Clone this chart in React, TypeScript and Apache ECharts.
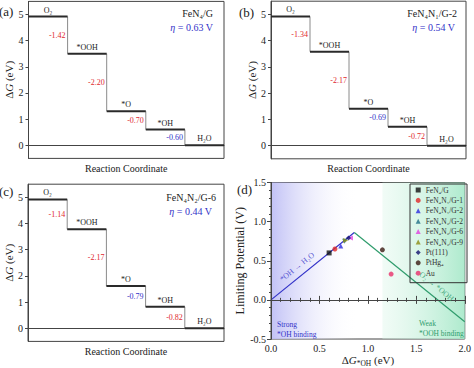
import React, { useEffect, useRef } from 'react';
import * as echarts from 'echarts';

const FONT = '"Liberation Serif", "DejaVu Serif", serif';
const RED = '#e0282e';
const BLUE = '#3232c8';
const GREEN = '#2f9c6c';

// ---- panels (a)-(c): free-energy diagrams ----
const states = ['O₂', '*OOH', '*O', '*OH', 'H₂O'];
const levelsA = [4.92, 3.5, 1.3, 0.6, 0.0];
const stepsA = ['-1.42', '-2.20', '-0.70', '-0.60'];
const limitingA = 3;
const levelsB = [4.92, 3.58, 1.41, 0.72, 0.0];
const stepsB = ['-1.34', '-2.17', '-0.69', '-0.72'];
const limitingB = 2;
const levelsC = [4.92, 3.78, 1.61, 0.82, 0.0];
const stepsC = ['-1.14', '-2.17', '-0.79', '-0.82'];
const limitingC = 2;
const panelNames = ['FeN₄/G', 'FeN₄N₁/G-2', 'FeN₄N₂/G-6'];
const panelEta = ['0.63', '0.54', '0.44'];
const yTicks = [0, 1, 2, 3, 4, 5];

// ---- panel (d): volcano ----
const volcanoLeft = [[0, 0], [0.86, 0.86]];
const volcanoRight = [[0.86, 0.86], [2.0, -0.28]];
const catalysts = ['FeN₄/G', 'FeN₄N₁/G-1', 'FeN₄N₁/G-2', 'FeN₄N₂/G-2', 'FeN₄N₂/G-6', 'FeN₄N₂/G-9', 'Pt(111)', 'PtHg₄', 'Au'];
const dGOH = [0.6, 0.66, 0.72, 0.76, 0.82, 0.77, 0.8, 1.15, 1.24];
const limitingPotential = [0.6, 0.65, 0.69, 0.75, 0.79, 0.76, 0.79, 0.64, 0.33];
const symbols = ['rect', 'circle', 'triangle', 'triangle', 'triangle', 'triangle', 'diamond', 'circle', 'circle'];
const symbolRotations = [0, 0, 0, 180, 90, -90, 0, 0, 0];
const symbolColors = ['#111111', '#e02828', '#2a2ae0', '#1f6f86', '#e040e0', '#8c8c14', '#12126e', '#3a1a12', '#e8306a'];

const grids = [
  { left: 28.5, top: 1.4, width: 195.5, height: 157 },
  { left: 271, top: 1.2, width: 195, height: 157.6 },
  { left: 28, top: 184.2, width: 196, height: 157.2 },
  { left: 271, top: 182.5, width: 196, height: 158 },
];

function stepSeries(gi: number, levels: number[], steps: string[], limiting: number) {
  return [
    {
      type: 'custom',
      xAxisIndex: gi,
      yAxisIndex: gi,
      z: 3,
      data: steps.map((s, i) => [i + 1, levels[i], levels[i + 1]]),
      renderItem: (params: any, api: any) => {
        const i = params.dataIndex;
        const a = api.coord([api.value(0), api.value(1)]);
        const b = api.coord([api.value(0), api.value(2)]);
        return {
          type: 'group',
          children: [
            { type: 'line', shape: { x1: a[0], y1: a[1], x2: b[0], y2: b[1] }, style: { stroke: '#8a8a8a', lineWidth: 1 } },
            {
              type: 'text',
              x: a[0] - 2,
              y: (a[1] + b[1]) / 2,
              style: {
                text: steps[i],
                fill: i === limiting ? BLUE : RED,
                fontSize: 8,
                fontFamily: FONT,
                align: 'right',
                verticalAlign: 'middle',
              },
            },
          ],
        };
      },
    },
    {
      type: 'custom',
      xAxisIndex: gi,
      yAxisIndex: gi,
      z: 4,
      data: levels.map((v, i) => [i, i + 1, v]),
      renderItem: (params: any, api: any) => {
        const i = params.dataIndex;
        const a = api.coord([api.value(0), api.value(2)]);
        const b = api.coord([api.value(1), api.value(2)]);
        return {
          type: 'group',
          children: [
            { type: 'line', shape: { x1: a[0], y1: a[1], x2: b[0], y2: b[1] }, style: { stroke: '#2a2a2a', lineWidth: 2 } },
            {
              type: 'text',
              x: (a[0] + b[0]) / 2,
              y: a[1] - 2.5,
              style: {
                text: states[i],
                fill: '#222',
                fontSize: 8,
                fontFamily: FONT,
                align: 'center',
                verticalAlign: 'bottom',
              },
            },
          ],
        };
      },
    },
  ];
}

function stepAxes(gi: number) {
  const x = {
    type: 'value',
    gridIndex: gi,
    min: 0,
    max: 5,
    axisLine: { show: true, lineStyle: { color: '#444', width: 1 } },
    axisTick: { show: false },
    axisLabel: { show: false },
    splitLine: { show: false },
    name: 'Reaction Coordinate',
    nameLocation: 'middle',
    nameGap: 5,
    nameTextStyle: { fontFamily: FONT, fontSize: 10, color: '#222', verticalAlign: 'top' },
  };
  const y = {
    type: 'value',
    gridIndex: gi,
    min: -0.5,
    max: 5.5,
    axisLine: { show: true, lineStyle: { color: '#444', width: 1 } },
    axisTick: { show: true, length: 3, customValues: yTicks, lineStyle: { color: '#444' } },
    axisLabel: { customValues: yTicks, margin: 5, fontSize: 10, fontFamily: FONT, color: '#222' },
    splitLine: { show: false },
    name: 'Δ{i|G} (eV)',
    nameLocation: 'middle',
    nameGap: 12,
    nameTextStyle: {
      fontFamily: FONT,
      fontSize: 11,
      color: '#222',
      rich: { i: { fontFamily: FONT, fontSize: 11, fontStyle: 'italic', color: '#222' } },
    },
  };
  return { x, y };
}

function text(x: number, y: number, t: string, opts: any = {}) {
  const align = opts.align || 'left';
  const va = opts.verticalAlign || 'middle';
  return {
    type: 'text',
    x,
    y,
    z: 100,
    style: {
      text: t,
      fill: opts.fill || '#222',
      fontSize: opts.fontSize || 10,
      fontFamily: FONT,
      fontStyle: opts.fontStyle || 'normal',
      lineHeight: opts.lineHeight,
      align,
      textAlign: align,
      verticalAlign: va,
      textVerticalAlign: va,
      rich: opts.rich,
    },
  };
}

export default function App() {
  const ref = useRef<HTMLDivElement>(null);

  useEffect(() => {
    if (!ref.current) return;
    const chart = echarts.init(ref.current, undefined, { renderer: 'svg' });

    const aA = stepAxes(0);
    const aB = stepAxes(1);
    const aC = stepAxes(2);

    const dAxisLine = { show: true, lineStyle: { color: '#444', width: 1 } };
    const tickFmt = (v: number) => v.toFixed(1);

    const etaRich = (c: string) => ({ i: { fontFamily: FONT, fontSize: 10, fontStyle: 'italic', fill: c, color: c } });

    const option: any = {
      animation: false,
      grid: grids.map((g) => ({ ...g, show: true, borderColor: '#444', borderWidth: 1, backgroundColor: 'transparent' })),
      xAxis: [
        aA.x,
        aB.x,
        aC.x,
        {
          type: 'value',
          gridIndex: 3,
          min: 0,
          max: 2,
          interval: 0.5,
          z: 5,
          axisLine: dAxisLine,
          axisTick: { show: true, inside: true, length: 4, lineStyle: { color: '#444' } },
          minorTick: { show: true, splitNumber: 5, length: 2, lineStyle: { color: '#444' } },
          axisLabel: { formatter: tickFmt, margin: 4, fontSize: 10, fontFamily: FONT, color: '#222' },
          splitLine: { show: false },
          name: 'Δ{i|G}{s|*OH} (eV)',
          nameLocation: 'middle',
          nameGap: 13,
          nameTextStyle: {
            fontFamily: FONT,
            fontSize: 11,
            color: '#222',
            verticalAlign: 'top',
            rich: {
              i: { fontFamily: FONT, fontSize: 11, fontStyle: 'italic', color: '#222' },
              s: { fontFamily: FONT, fontSize: 7.5, color: '#222', padding: [7, 0, 0, 0] },
            },
          },
        },
        {
          type: 'value',
          gridIndex: 3,
          position: 'top',
          min: 0,
          max: 2,
          interval: 0.5,
          z: 5,
          axisLine: dAxisLine,
          axisTick: { show: true, inside: true, length: 4, lineStyle: { color: '#444' } },
          minorTick: { show: true, splitNumber: 5, length: 2, lineStyle: { color: '#444' } },
          axisLabel: { show: false },
          splitLine: { show: false },
        },
      ],
      yAxis: [
        aA.y,
        aB.y,
        aC.y,
        {
          type: 'value',
          gridIndex: 3,
          min: -0.5,
          max: 1.5,
          interval: 0.5,
          z: 5,
          axisLine: dAxisLine,
          axisTick: { show: true, inside: false, length: 3, lineStyle: { color: '#444' } },
          minorTick: { show: true, splitNumber: 5, length: 2, lineStyle: { color: '#444' } },
          axisLabel: { formatter: tickFmt, margin: 5, fontSize: 10, fontFamily: FONT, color: '#222' },
          splitLine: { show: false },
          name: 'Limiting Potential (V)',
          nameLocation: 'middle',
          nameGap: 18,
          nameTextStyle: { fontFamily: FONT, fontSize: 12, color: '#222' },
        },
        {
          type: 'value',
          gridIndex: 3,
          position: 'right',
          min: -0.5,
          max: 1.5,
          interval: 0.5,
          z: 5,
          axisLine: dAxisLine,
          axisTick: { show: true, inside: true, length: 4, lineStyle: { color: '#444' } },
          minorTick: { show: true, splitNumber: 5, length: 2, lineStyle: { color: '#444' } },
          axisLabel: { show: false },
          splitLine: { show: false },
        },
      ],
      legend: {
        data: catalysts,
        orient: 'vertical',
        left: 410,
        top: 184,
        padding: [1.5, 4, 5, 5.7],
        itemWidth: 5,
        itemHeight: 5,
        itemGap: 1.4,
        borderColor: '#333',
        borderWidth: 1,
        backgroundColor: 'transparent',
        textStyle: { fontFamily: FONT, fontSize: 7.5, color: '#333', lineHeight: 9 },
      },
      series: [
        ...stepSeries(0, levelsA, stepsA, limitingA),
        ...stepSeries(1, levelsB, stepsB, limitingB),
        ...stepSeries(2, levelsC, stepsC, limitingC),
        {
          type: 'line',
          xAxisIndex: 3,
          yAxisIndex: 3,
          data: volcanoLeft,
          showSymbol: false,
          z: 2,
          lineStyle: { color: BLUE, width: 1.2 },
          markArea: {
            silent: true,
            label: { show: false },
            data: [
              [
                {
                  xAxis: 0,
                  yAxis: -0.5,
                  itemStyle: {
                    color: new echarts.graphic.LinearGradient(0, 0, 1, 0, [
                      { offset: 0, color: 'rgba(190,190,245,0.95)' },
                      { offset: 1, color: 'rgba(255,255,255,0)' },
                    ]),
                  },
                },
                { xAxis: 0.9, yAxis: 1.5 },
              ],
              [
                {
                  xAxis: 1.15,
                  yAxis: -0.5,
                  itemStyle: {
                    color: new echarts.graphic.LinearGradient(0, 0, 1, 0, [
                      { offset: 0, color: 'rgba(215,245,230,0.35)' },
                      { offset: 1, color: 'rgba(165,232,200,0.9)' },
                    ]),
                  },
                },
                { xAxis: 2, yAxis: 1.5 },
              ],
            ],
          },
        },
        {
          type: 'line',
          xAxisIndex: 3,
          yAxisIndex: 3,
          data: volcanoRight,
          showSymbol: false,
          z: 2,
          lineStyle: { color: GREEN, width: 1.2 },
        },
        ...catalysts.map((name, i) => ({
          type: 'scatter',
          name,
          xAxisIndex: 3,
          yAxisIndex: 3,
          z: 6,
          symbol: symbols[i],
          symbolRotate: symbolRotations[i],
          symbolSize: 5,
          itemStyle: { color: symbolColors[i] },
          data: [[dGOH[i], limitingPotential[i]]],
        })),
        {
          type: 'scatter',
          xAxisIndex: 3,
          yAxisIndex: 3,
          symbolSize: 0,
          silent: true,
          z: 7,
          data: [
            { value: [0.27, 0.42], label: { formatter: '*OH → H₂O', rotate: 39, color: BLUE } },
            { value: [1.71, 0.17], label: { formatter: 'O₂ → *OOH', rotate: -39, color: GREEN } },
          ],
          label: { show: true, position: 'inside', fontFamily: FONT, fontSize: 8 },
        },
      ],
      graphic: {
        elements: [
          text(-1, 11, '(a)', { fontSize: 13 }),
          text(239, 12, '(b)', { fontSize: 13 }),
          text(-1, 191, '(c)', { fontSize: 13 }),
          text(237, 189, '(d)', { fontSize: 13 }),
          text(213, 13, panelNames[0], { align: 'right' }),
          text(213, 27.5, '{i|η} = ' + panelEta[0] + ' V', { align: 'right', fill: BLUE, rich: etaRich(BLUE) }),
          text(457, 13, panelNames[1], { align: 'right' }),
          text(455, 27, '{i|η} = ' + panelEta[1] + ' V', { align: 'right', fill: BLUE, rich: etaRich(BLUE) }),
          text(216, 197, panelNames[2], { align: 'right' }),
          text(212, 211, '{i|η} = ' + panelEta[2] + ' V', { align: 'right', fill: BLUE, rich: etaRich(BLUE) }),
          text(277, 329.5, 'Strong\n*OH binding', { fontSize: 7.5, fill: BLUE, lineHeight: 10.5 }),
          text(419, 328.5, 'Weak\n*OOH binding', { fontSize: 7.5, fill: GREEN, lineHeight: 10.5 }),
        ],
      },
    };

    chart.setOption(option);
    return () => chart.dispose();
  }, []);

  return <div ref={ref} style={{ position: 'fixed', left: 0, top: 0, width: 474, height: 368, background: '#fff' }} />;
}
